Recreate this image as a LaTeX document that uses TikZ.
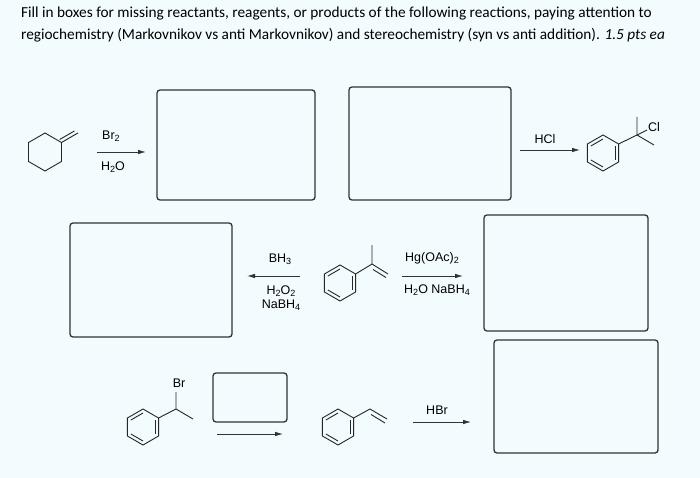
\documentclass[tikz,border=0pt]{standalone}
\usepackage{fontspec}
\setmainfont{Carlito}
\newfontfamily\arialf{Liberation Sans}
\usetikzlibrary{arrows.meta,calc}
\newcommand\sbs[1]{\raisebox{-0.3ex}{\fontsize{9}{9}\selectfont #1}}
\newcommand\benzring[2]{%
  \begin{scope}[shift={(#1,#2)}]
  \draw[bond] (30:18) -- (90:18) -- (150:18) -- (210:18) -- (270:18) -- (330:18) -- cycle;
  \draw[bond] (90:14) -- (150:14);
  \draw[bond] (210:14) -- (270:14);
  \draw[bond] (330:14) -- (30:14);
  \end{scope}}
\begin{document}
\begin{tikzpicture}[x=1pt,y=-1pt,
  bond/.style={line width=0.9pt,black!85},
  answerbox/.style={draw=black!80,line width=1.3pt,rounded corners=3pt},
  rxn/.style={line width=0.8pt,black!80,-{Latex[length=8pt,width=4.5pt]}},
  lab/.style={font=\arialf\fontsize{12.5}{13}\selectfont,inner sep=0pt}]
\fill[cyan!5] (0,0) rectangle (700,478);
\useasboundingbox (0,0) rectangle (700,478);
\node[anchor=west,inner sep=0pt,font=\fontsize{15.3}{17}\selectfont] (t1) at (21,14) {Fill in boxes for missing reactants, reagents, or products of the following reactions, paying attention to};
\node[anchor=west,inner sep=0pt,font=\fontsize{15.3}{17}\selectfont] (t2) at (21,35) {regiochemistry (Markovnikov vs anti Markovnikov) and stereochemistry (syn vs anti addition). \textit{1.5 pts ea}};
% boxes
\draw[answerbox] (157,90) rectangle (315,200);
\draw[answerbox] (349,87) rectangle (511,200);
\draw[answerbox] (70,223) rectangle (232,337);
\draw[answerbox] (484,215) rectangle (648,331);
\draw[answerbox] (494,340) rectangle (658,453);
\draw[answerbox] (213,373) rectangle (287,422);
% methylenecyclohexane
\begin{scope}[shift={(45,152)}]
\draw[bond] (30:19) -- (90:19) -- (150:19) -- (210:19) -- (270:19) -- (330:19) -- cycle;
\draw[bond] (-30:19) -- ++(-30:19);
\draw[bond] ($(-30:19)+(-120:3.5)$) -- ++(-30:17);
\end{scope}
% reaction 1 arrow
\coordinate (a1s) at (97,152); \coordinate (a1e) at (146,152);
\draw[rxn] (a1s) -- (a1e);
\node[lab] (br2) at (111,136) {Br\sbs{2}};
\node[lab] (h2o1) at (113,167) {H\sbs{2}O};
% HCl reaction
\coordinate (a2s) at (520,150); \coordinate (a2e) at (580,150);
\draw[rxn] (a2s) -- (a2e);
\node[lab] (hcl) at (545,139) {HCl};
\benzring{603}{153}
\draw[bond] (603,153) ++(-30:18) -- (637,135) -- (637,117);
\draw[bond] (637,135) -- (654,145);
\draw[bond] (637,135) -- (647,130);
\node[lab,anchor=west] (cl) at (648,127) {Cl};
% alpha-methylstyrene
\benzring{340}{283}
\draw[bond] (340,283) ++(-30:18) -- (372,264) -- (372,245);
\draw[bond] (372,264) -- (388,274);
\draw[bond] (373,269.5) -- (386,277.5);
\coordinate (a3s) at (300,276); \coordinate (a3e) at (247,276);
\draw[rxn] (a3s) -- (a3e);
\node[lab] (bh3) at (280,259) {BH\sbs{3}};
\node[lab] (h2o2) at (281,291) {H\sbs{2}O\sbs{2}};
\node[lab] (nabh4a) at (281,305) {NaBH\sbs{4}};
\coordinate (a4s) at (402,276); \coordinate (a4e) at (463,276);
\draw[rxn] (a4s) -- (a4e);
\node[lab] (hg) at (432,258) {Hg(OAc)\sbs{2}};
\node[lab] (h2onabh4) at (437,290) {H\sbs{2}O NaBH\sbs{4}};
% 1-bromoethylbenzene
\benzring{143}{427}
\draw[bond] (143,427) ++(-30:18) -- (176,409) -- (176,392);
\draw[bond] (176,409) -- (193,419);
\node[lab] (br) at (179,383) {Br};
\coordinate (a5s) at (217,434); \coordinate (a5e) at (283,434);
\draw[rxn] (a5s) -- (a5e);
% styrene
\benzring{338}{427}
\draw[bond] (338,427) ++(-30:18) -- (370,409) -- (387,419);
\draw[bond] (371,414.5) -- (385,423);
\coordinate (a6s) at (413,422); \coordinate (a6e) at (471,422);
\draw[rxn] (a6s) -- (a6e);
\node[lab] (hbr) at (437,410) {HBr};
\end{tikzpicture}
\end{document}
